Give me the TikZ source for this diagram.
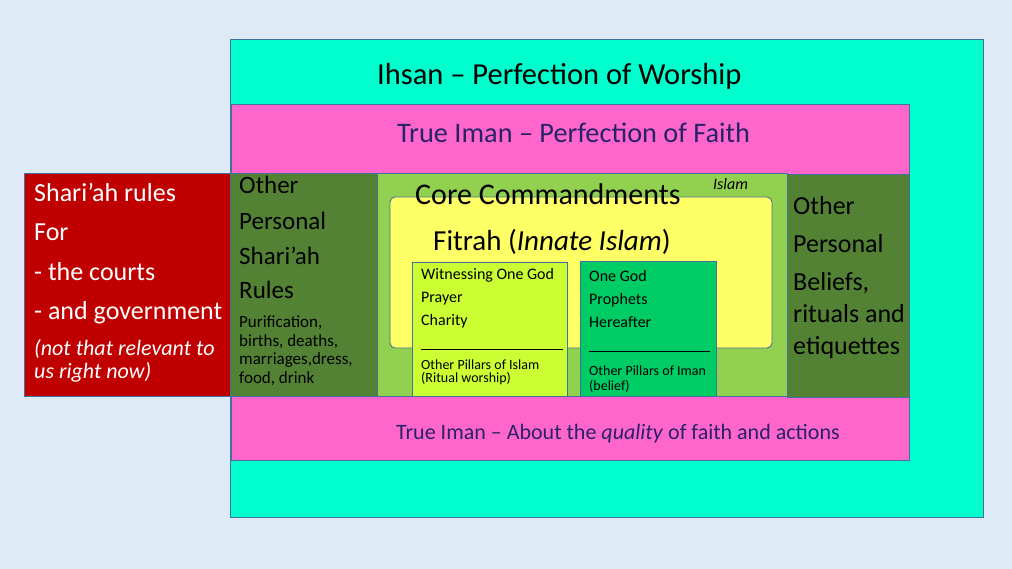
\documentclass[tikz,border=0pt]{standalone}
\usepackage{fontspec}
\setmainfont{Carlito}
\usepackage{xcolor}
\usepackage{tikz}
\usetikzlibrary{positioning}

\definecolor{bgblue}{RGB}{222,235,247}
\definecolor{ihsancol}{RGB}{0,255,204}
\definecolor{imancol}{RGB}{255,102,204}
\definecolor{shariacol}{RGB}{192,0,0}
\definecolor{personalcol}{RGB}{84,130,53}
\definecolor{islamcol}{RGB}{146,208,80}
\definecolor{fitrahcol}{RGB}{255,255,102}
\definecolor{pillarcol}{RGB}{204,255,51}
\definecolor{beliefcol}{RGB}{0,204,102}
\definecolor{edgecol}{RGB}{65,113,156}
\definecolor{navytext}{RGB}{40,34,105}

\newcommand{\fsz}[2]{\fontsize{#1}{#2}\selectfont}

\begin{document}
\begin{tikzpicture}[x=1pt,y=-1pt]
		\tikzset{
			box/.style={rectangle, draw=edgecol, line width=0.9pt, inner sep=0pt,
			outer sep=0pt, anchor=north west},
			txt/.style={inner sep=0pt, anchor=base west, align=left},
			title/.style={inner sep=0pt, anchor=base west},
		}
		\fill[bgblue] (0,0) rectangle (1012,569);
		\useasboundingbox (0,0) rectangle (1012,569);

		% nested boxes
		\node[box, fill=ihsancol, minimum width=753pt, minimum height=478pt](ihsan) at (230,39.5){};
		\node[box, fill=imancol, minimum width=678pt, minimum height=356pt](iman) at (231,104){};
		\node[box, fill=shariacol, minimum width=206pt, minimum height=223pt](sharia) at (24,173){};
		\node[box, fill=personalcol, minimum width=147pt, minimum height=223pt](rules) at (230,173){};
		\node[box, fill=islamcol, minimum width=410pt, minimum height=223pt](islam) at (377,173){};
		\node[box, fill=personalcol, minimum width=122pt, minimum height=223pt](beliefs) at (787,174){};
		\node[box, fill=fitrahcol, rounded corners=5pt, minimum width=382pt, minimum height=151pt](fitrah) at (390,197){};
		\node[box, fill=pillarcol, minimum width=155pt, minimum height=134pt](pillars) at (412,262){};
		\node[box, fill=beliefcol, minimum width=136pt, minimum height=135pt](faith) at (580,261){};

		% titles
		\node[title, font=\fsz{30.5}{36}](ihsanT) at (377,85){Ihsan -- Perfection of Worship};
		\node[title, font=\fsz{28.3}{34}, text=navytext](imanT) at (397,142.3){True Iman -- Perfection of Faith};
		\node[title, font=\fsz{22}{26}, text=navytext](qualT) at (396,439.3){True Iman -- About the \textit{quality} of faith and actions};
		\node[title, font=\fsz{30}{36}](coreT) at (415,204.3){Core Commandments};
		\node[title, font=\fsz{16}{18}\itshape](islamT) at (713,190){Islam};
		\node[title, font=\fsz{29}{34}](fitrahT) at (433,250.7){Fitrah (\textit{Innate Islam})};

		% left side (base = last line)
		\node[txt, font=\fsz{26}{39.2}, text=white](shariaT) at (34,319.3){Shari’ah rules\\For\\- the courts\\- and government};
		\node[txt, font=\fsz{22}{23.5}\itshape, text=white](noteT) at (34,378.5){(not that relevant to\\us right now)};
		\node[txt, font=\fsz{25}{35}](rulesT) at (239,299){Other\\Personal\\Shari’ah\\Rules};
		\node[txt, font=\fsz{17}{18.7}](rulesS) at (239,383.4){Purification,\\births, deaths,\\marriages,dress,\\food, drink};

		% right side
		\node[txt, font=\fsz{26}{32}](beliefsT) at (793,354.3){Other\\[6pt]Personal\\[6pt]Beliefs,\\rituals and\\etiquettes};

		% pillars
		\node[txt, font=\fsz{16}{23}](pillarsT) at (421,325.3){Witnessing One God\\Prayer\\Charity};
		\node[txt, font=\fsz{14}{14}](pillarsS) at (421,382){Other Pillars of Islam\\[-1.5pt](Ritual worship)};
		\draw(pillars.west |- 0,349) ++(9,0) -- ++(142,0);
		\node[txt, font=\fsz{16}{22.8}](faithT) at (589,327.3){One God\\Prophets\\Hereafter};
		\node[txt, font=\fsz{14}{15}](faithS) at (589,390){Other Pillars of Iman\\(belief)};
		\draw(faith.west |- 0,351) ++(9,0) -- ++(121,0);

	\end{tikzpicture}
\end{document}
